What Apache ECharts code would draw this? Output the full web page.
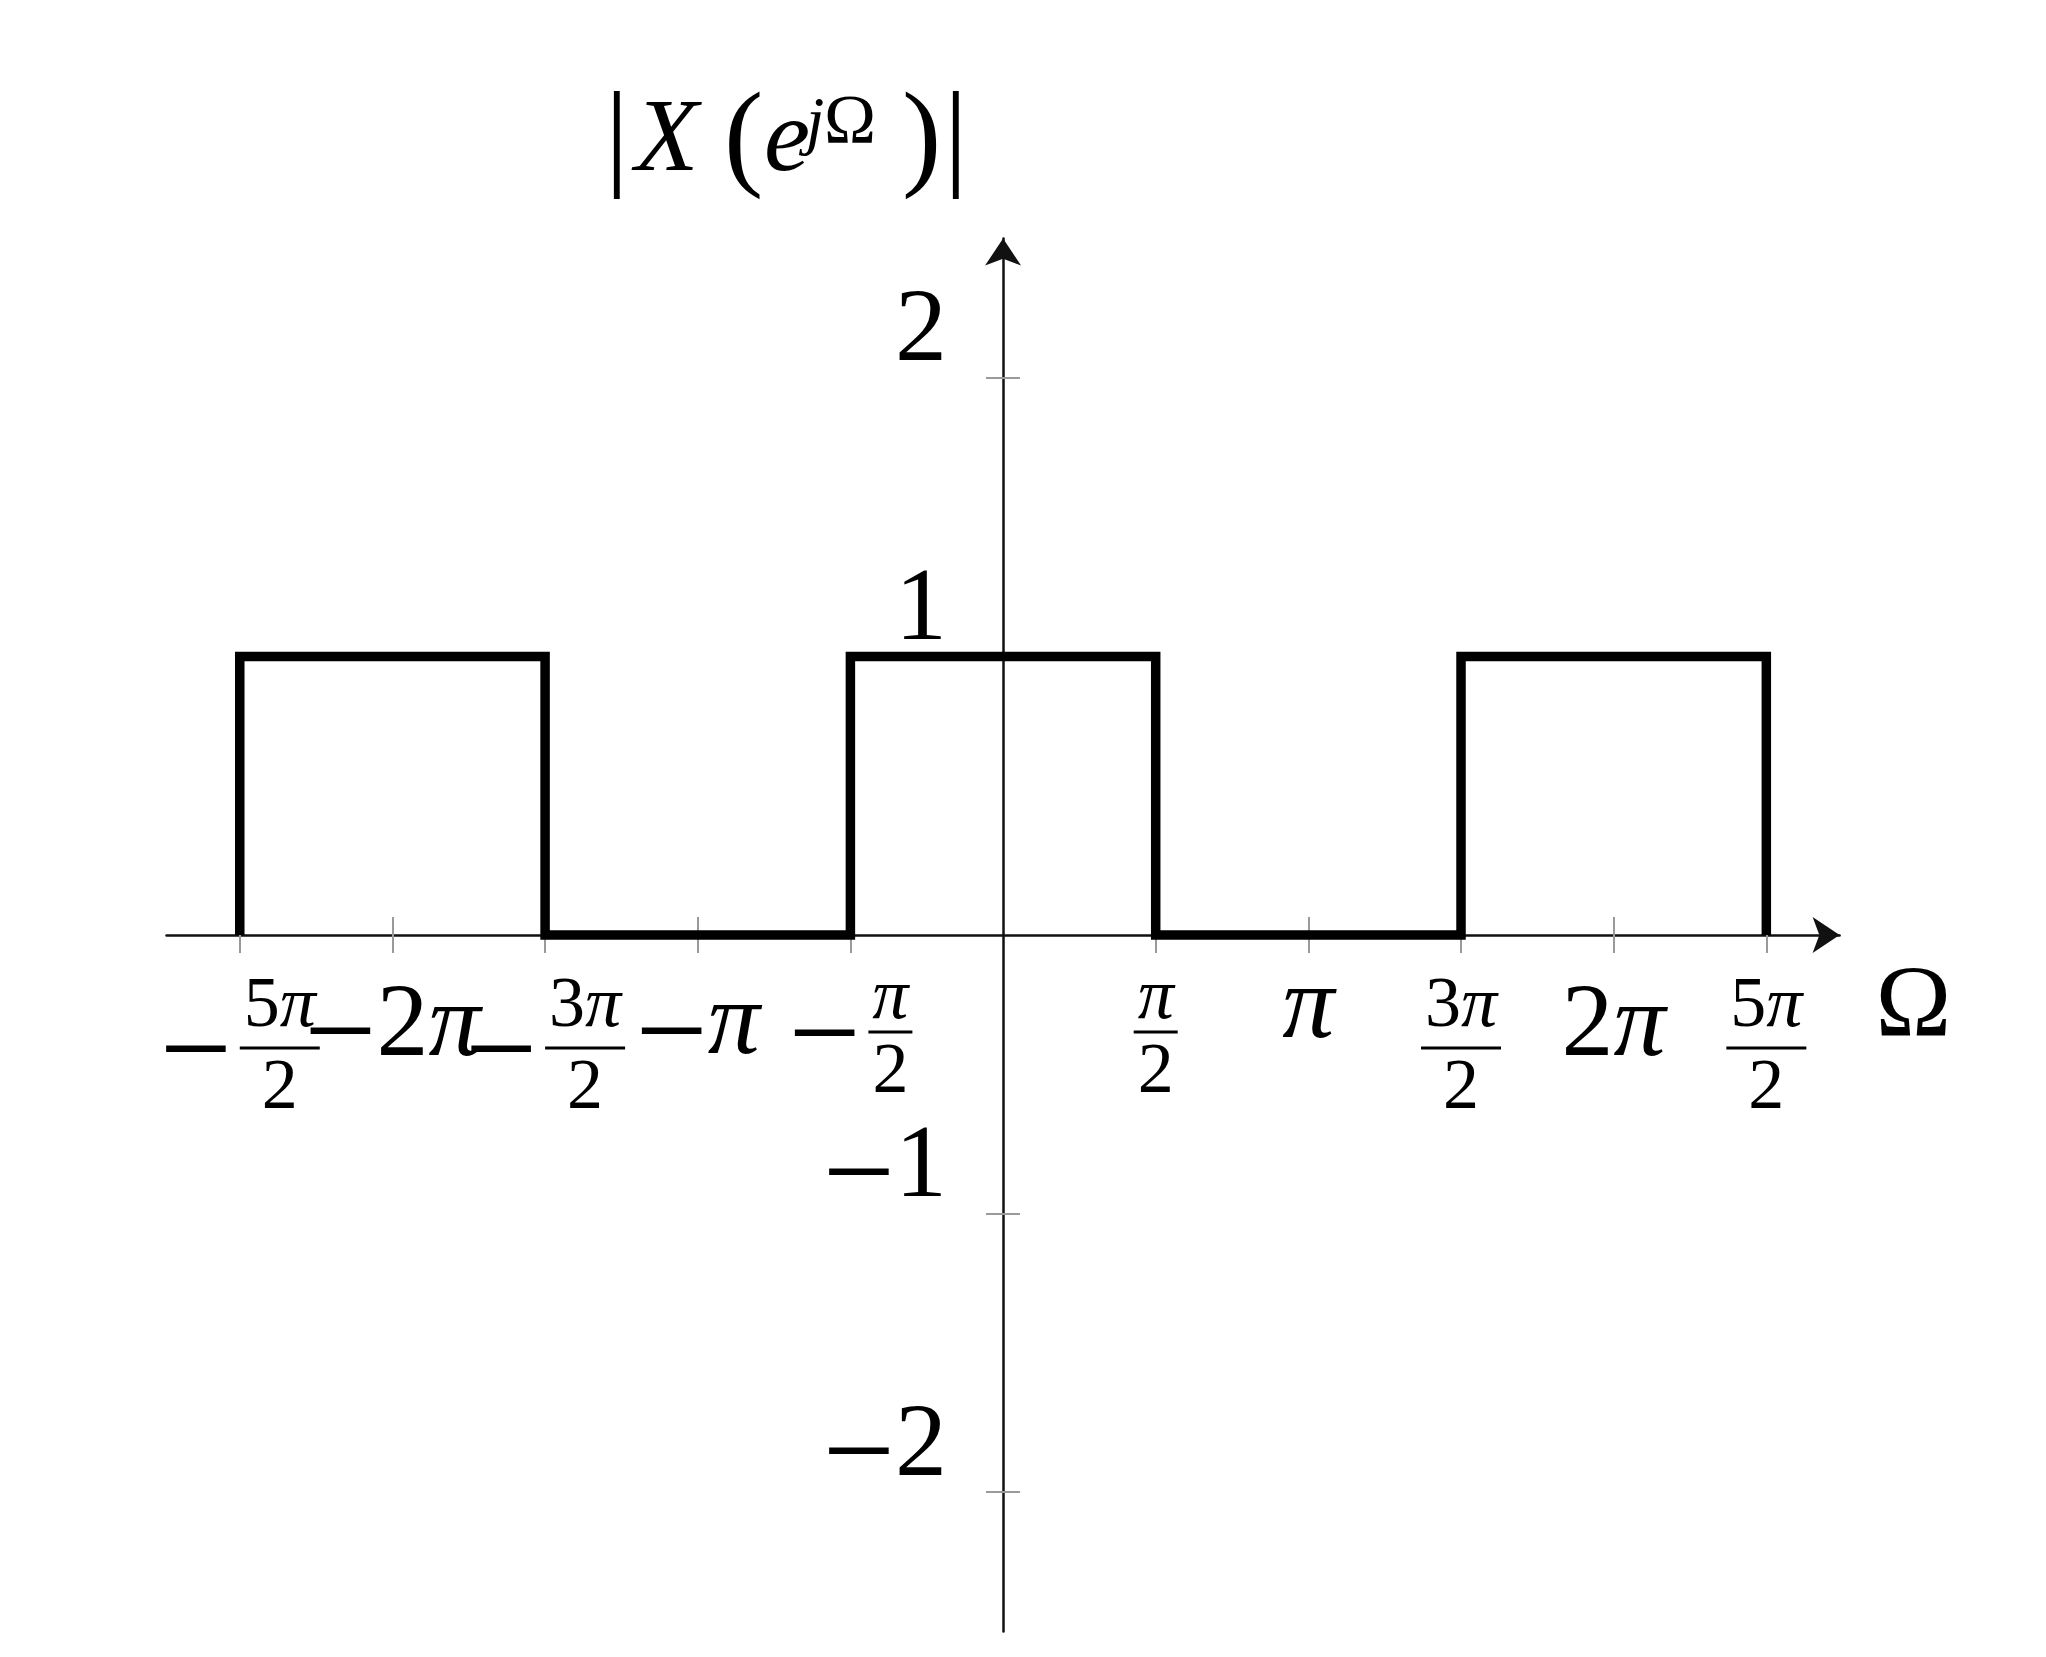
<!DOCTYPE html>
<html>
<head>
<meta charset="utf-8">
<script src="https://cdn.jsdelivr.net/npm/echarts@6/dist/echarts.min.js"></script>
<style>
html,body{margin:0;padding:0;background:#ffffff;}
#chart{width:2046px;height:1657px;}
</style>
</head>
<body>
<div id="chart"></div>
<script>
// ---- data (x in units of π) ----
const omega = [-2.5, -2.5, -1.5, -1.5, -0.5, -0.5, 0.5, 0.5, 1.5, 1.5, 2.5, 2.5];
const magnitude = [0, 1, 1, 0, 0, 1, 1, 0, 0, 1, 1, 0];
const xTickValues = [-2.5, -2, -1.5, -1, -0.5, 0.5, 1, 1.5, 2, 2.5];
const xTickLabels = ['−5π/2', '−2π', '−3π/2', '−π', '−π/2', 'π/2', 'π', '3π/2', '2π', '5π/2'];
const yTickValues = [-2, -1, 1, 2];
const yTickLabels = ['−2', '−1', '1', '2'];
const xRange = [-2.74, 2.74];
const yRange = [-2.5, 2.5];
const xName = 'Ω';

// labels are split over two label axes so that neighbours never hide each other
const xLabelsA = xTickValues.filter((v, i) => i % 2 === 0);
const xLabelsB = xTickValues.filter((v, i) => i % 2 === 1);

const W = 2046, H = 1657;
const G = { left: 166.5, right: 206.4, top: 238.5, bottom: 25.5 };
const gridW = W - G.left - G.right, gridH = H - G.top - G.bottom;
const zeroFromLeft = gridW * (0 - xRange[0]) / (xRange[1] - xRange[0]);
const zeroFromTop = gridH * (yRange[1] - 0) / (yRange[1] - yRange[0]);

const F = '"Liberation Serif", "Times New Roman", serif';

function xLabelRich(t) {
  const neg = t.charAt(0) === '−';
  const body = neg ? t.slice(1) : t;
  if (body.indexOf('/') >= 0) {
    const parts = body.split('/');
    const num = parts[0], den = parts[1];
    const piOnly = num === 'π';
    const coef = piOnly ? '' : num.replace('π', '');
    const l1 = (neg ? (piOnly ? '{spP|}' : '{sp|}') : '') + (piOnly ? '{nP|π}' : '{nD|' + coef + '}{nDi|π}');
    const l2 = (neg ? '{m|−}' : '') + (piOnly ? '{barS|}' : '{barL|}');
    const l3 = (neg ? '{sp|}' : '') + '{den|' + den + '}';
    return l1 + '\n' + l2 + '\n' + l3;
  }
  if (body === 'π') return neg ? '{mPi|−}{i98|π}' : '{i61|π}';
  const coef = body.replace('π', '');
  return (neg ? '{m2Pi|−}' : '') + '{u106|' + coef + '}{i106|π}';
}
function findLabel(values, labels, v) {
  for (let i = 0; i < values.length; i++) if (Math.abs(values[i] - v) < 1e-9) return labels[i];
  return '';
}
function yLabelRich(t) {
  if (!t) return '';
  return t.charAt(0) === '−' ? '{my|−}{dy|' + t.slice(1) + '}' : '{dy|' + t + '}';
}

const rich = {
  sp:   { width: 80, lineHeight: 76, align: 'left' },
  spP:  { width: 80, lineHeight: 60, align: 'left' },
  m:    { fontFamily: F, fontSize: 128, width: 80, lineHeight: 6, align: 'left', padding: [18, 0, 0, 0], color: '#000' },
  nD:   { fontFamily: F, fontSize: 72, lineHeight: 76, align: 'center', color: '#000' },
  nDi:  { fontFamily: F, fontStyle: 'italic', fontSize: 72, lineHeight: 76, align: 'center', color: '#000' },
  nP:   { fontFamily: F, fontStyle: 'italic', fontSize: 72, lineHeight: 60, align: 'center', color: '#000' },
  barL: { width: 80, height: 3, backgroundColor: '#000', lineHeight: 6, align: 'center' },
  barS: { width: 44, height: 3, backgroundColor: '#000', lineHeight: 6, align: 'center' },
  den:  { fontFamily: F, fontSize: 72, lineHeight: 76, align: 'center', color: '#000' },
  m2Pi: { fontFamily: F, fontSize: 128, lineHeight: 118, padding: [22, 0, 0, 0], color: '#000' },
  u106: { fontFamily: F, fontSize: 104, lineHeight: 118, color: '#000' },
  i106: { fontFamily: F, fontStyle: 'italic', fontSize: 104, lineHeight: 118, color: '#000' },
  i61:  { fontFamily: F, fontStyle: 'italic', fontSize: 104, lineHeight: 81, color: '#000' },
  mPi:  { fontFamily: F, fontSize: 128, lineHeight: 114, padding: [26, 0, 0, 0], color: '#000' },
  i98:  { fontFamily: F, fontStyle: 'italic', fontSize: 104, lineHeight: 114, color: '#000' }
};
const yRich = {
  my: { fontFamily: F, fontSize: 128, lineHeight: 90, padding: [24, 0, 0, 0], color: '#000' },
  dy: { fontFamily: F, fontSize: 104, lineHeight: 90, color: '#000' }
};

const axisLineStyle = { color: '#111', width: 2.5 };
const tickStyle = { color: '#9a9a9a', width: 2 };
const tr = { fontFamily: F, fontWeight: 'normal', color: '#000', lineHeight: 130, align: 'left' };

function labelAxis(values, extra) {
  return Object.assign({
    type: 'value', min: xRange[0], max: xRange[1], position: 'bottom',
    offset: -(gridH - zeroFromTop),
    axisLine: { show: false, onZero: false },
    axisTick: { show: false },
    axisLabel: {
      show: true, margin: 34, hideOverlap: false, showMinLabel: true, showMaxLabel: true,
      customValues: values,
      formatter: v => xLabelRich(findLabel(xTickValues, xTickLabels, v)),
      rich: rich, color: '#000'
    },
    splitLine: { show: false }
  }, extra || {});
}

const chart = echarts.init(document.getElementById('chart'), null, { renderer: 'canvas' });
chart.setOption({
  backgroundColor: '#ffffff',
  animation: false,
  title: {
    text: '{d1||}{X|X}{p|(}{e|e}{j|j}{O|Ω}{q|)}{d2||}',
    left: 605,
    top: 78,
    padding: 0,
    textStyle: {
      fontWeight: 'normal',
      rich: {
        d1: Object.assign({}, tr, { fontSize: 118, width: 30 }),
        X:  Object.assign({}, tr, { fontStyle: 'italic', fontSize: 104, width: 89 }),
        p:  Object.assign({}, tr, { fontSize: 118, width: 40 }),
        e:  Object.assign({}, tr, { fontStyle: 'italic', fontSize: 104, width: 42 }),
        j:  Object.assign({}, tr, { fontStyle: 'italic', fontSize: 66, width: 18, padding: [0, 0, 36, 0] }),
        O:  Object.assign({}, tr, { fontSize: 70, width: 78, padding: [0, 0, 36, 0] }),
        q:  Object.assign({}, tr, { fontSize: 118, width: 42 }),
        d2: Object.assign({}, tr, { fontSize: 118 })
      }
    }
  },
  grid: {
    left: G.left, right: G.right, top: G.top, bottom: G.bottom,
    containLabel: false, outerBoundsMode: 'none'
  },
  xAxis: [
    {
      type: 'value', min: xRange[0], max: xRange[1], position: 'bottom',
      offset: -(gridH - zeroFromTop),
      axisLine: { show: true, onZero: false, symbol: ['none', 'arrow'], symbolSize: [27, 27], lineStyle: axisLineStyle },
      axisTick: { show: true, inside: false, length: 18, customValues: xTickValues, lineStyle: tickStyle },
      axisLabel: { show: false },
      splitLine: { show: false },
      name: xName, nameLocation: 'end', nameGap: 36, nameMoveOverlap: false,
      nameTextStyle: { fontFamily: F, fontSize: 102, color: '#000', verticalAlign: 'top', lineHeight: 148 }
    },
    {
      type: 'value', min: xRange[0], max: xRange[1], position: 'top',
      offset: -zeroFromTop,
      axisLine: { show: true, onZero: false, lineStyle: { color: '#000', width: 1, opacity: 0 } },
      axisTick: { show: true, inside: false, length: 18, customValues: xTickValues, lineStyle: tickStyle },
      axisLabel: { show: false },
      splitLine: { show: false }
    },
    labelAxis(xLabelsA),
    labelAxis(xLabelsB)
  ],
  yAxis: [
    {
      type: 'value', min: yRange[0], max: yRange[1], position: 'left',
      offset: -zeroFromLeft,
      axisLine: { show: true, onZero: false, symbol: ['none', 'arrow'], symbolSize: [27, 27], lineStyle: axisLineStyle },
      axisTick: { show: true, inside: false, length: 17, customValues: yTickValues, lineStyle: tickStyle },
      axisLabel: {
        show: true, margin: 56, hideOverlap: false, showMinLabel: true, showMaxLabel: true,
        customValues: yTickValues,
        formatter: v => yLabelRich(findLabel(yTickValues, yTickLabels, v)),
        rich: yRich, lineHeight: 90, verticalAlign: 'bottom', color: '#000'
      },
      splitLine: { show: false }
    },
    {
      type: 'value', min: yRange[0], max: yRange[1], position: 'right',
      offset: -(gridW - zeroFromLeft),
      axisLine: { show: true, onZero: false, lineStyle: { color: '#000', width: 1, opacity: 0 } },
      axisTick: { show: true, inside: false, length: 17, customValues: yTickValues, lineStyle: tickStyle },
      axisLabel: { show: false },
      splitLine: { show: false }
    }
  ],
  series: [
    {
      type: 'line',
      xAxisIndex: 0, yAxisIndex: 0,
      data: omega.map((x, i) => [x, magnitude[i]]),
      symbol: 'none',
      lineStyle: { color: '#000', width: 9.5, join: 'miter', cap: 'butt' },
      z: 5
    }
  ]
});
</script>
</body>
</html>
